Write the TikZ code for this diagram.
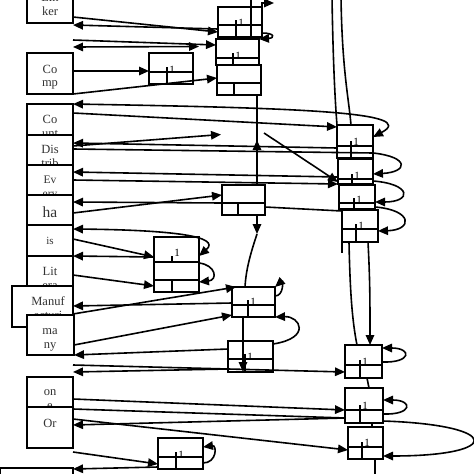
\documentclass[tikz,border=0pt]{standalone}
\usepackage{fontspec}
\setmainfont{Liberation Serif}
\usetikzlibrary{arrows.meta}
\tikzset{
  wbox/.style={draw, fill=white, line width=1.3pt, anchor=north west, inner sep=0pt, outer sep=0pt},
  wtxt/.style={anchor=base, font=\fontsize{12.5}{14}\selectfont, text=black!80, inner sep=0pt},
  rec/.style={draw, line width=1.3pt, anchor=north west, inner sep=0pt, outer sep=0pt},
  recline/.style={line width=1.3pt},
  lab/.style={font=\fontsize{11}{12}\selectfont, inner sep=0pt},
  ln/.style={line width=1.6pt},
  arr/.style={line width=1.6pt, -{Triangle[length=10pt,width=8.5pt]}},
  dar/.style={line width=1.6pt, {Triangle[length=10pt,width=8.5pt]}-{Triangle[length=10pt,width=8.5pt]}},
}
\newcommand\recnode[8]{%
  \node[rec, minimum width={(#4-#2)*1pt}, minimum height={(#5-#3)*1pt}] (#1) at (#2,#3) {};
  \draw[recline] (#2,#6) -- (#4,#6);
  \draw[recline] (#7,#6) -- (#7,#5);
  \if\relax\detokenize{#8}\relax\else
    \draw[recline] (#7,#6) -- (#7,#6-5);
    \node[lab] (#1-l) at (#7+5,#8) {1};
  \fi}
\newcommand\wordbox[5]{%
  \node[wbox, minimum width={(#4-#2)*1pt}, minimum height={(#5-#3)*1pt}] (#1) at (#2,#3) {};}
\begin{document}
\begin{tikzpicture}[x=1pt,y=-1pt]
\useasboundingbox (0,0) rectangle (474,474);
\clip (0,0) rectangle (474,474);
% left word boxes
\wordbox{ker}{27}{-18}{73}{23}
\node[wtxt] (ker-a) at (50,1) {Lin};
\node[wtxt] (ker-b) at (50,15) {ker};
\wordbox{comp}{27}{53}{73}{94}
\node[wtxt] (comp-a) at (50,73) {Co};
\node[wtxt] (comp-b) at (50,86) {mp};
\wordbox{count}{27}{104}{73}{145}
\node[wtxt] (count-a) at (50,123) {Co};
\node[wtxt] (count-b) at (50,137) {unt};
\wordbox{dis}{27}{135}{73}{176}
\node[wtxt] (dis-a) at (50,153) {Dis};
\node[wtxt] (dis-b) at (50,167) {trib};
\wordbox{ev}{27}{165}{73}{206}
\node[wtxt, font=\fontsize{11.5}{13}\selectfont] (ev-a) at (50,183) {Ev};
\node[wtxt, font=\fontsize{11.5}{13}\selectfont] (ev-b) at (50,197) {ery};
\wordbox{ha}{27}{195}{73}{236}
\node[wtxt, font=\fontsize{15.5}{17}\selectfont] (ha-a) at (50,217) {ha};
\wordbox{is}{27}{225}{73}{266}
\node[wtxt, font=\fontsize{11}{13}\selectfont] (is-a) at (50,244) {is};
\wordbox{lit}{27}{256}{73}{297}
\node[wtxt] (lit-a) at (50,275) {Lit};
\node[wtxt] (lit-b) at (50,289) {era};
\wordbox{manuf}{12}{286}{73}{327}
\node[wtxt] (manuf-a) at (48,305) {Manuf};
\node[wtxt] (manuf-b) at (48,319) {acturi};
\wordbox{many}{27}{315}{74}{355}
\node[wtxt] (many-a) at (50,334) {ma};
\node[wtxt] (many-b) at (50,348) {ny};
\wordbox{one}{27}{377}{73}{418}
\node[wtxt] (one-a) at (50,395) {on};
\node[wtxt] (one-b) at (50,409) {e};
\wordbox{or}{27}{407}{73}{448}
\node[wtxt] (or-a) at (50,427) {Or};
\wordbox{bot}{0}{468}{73}{509}
% record boxes
\recnode{A}{218}{7}{262}{37}{25}{236}{23}
\recnode{B}{216}{39}{259}{65}{58}{233}{56}
\recnode{C}{217}{65}{261}{95}{83}{234}{}
\recnode{D}{149}{53}{193}{84}{72}{167}{70}
\recnode{E}{337}{125}{373}{158}{146}{351}{142}
\recnode{F}{338}{159}{373}{184}{179}{352}{176}
\recnode{G}{339}{185}{375}{209}{203}{354}{200}
\recnode{H}{342}{210}{378}{242}{229}{356}{226}
\recnode{I}{222}{185}{265}{215}{203}{238}{}
\recnode{K}{154}{237}{199}{292}{280}{172}{}
\draw[recline] (154,262) -- (199,262);
\draw[recline] (172,262) -- (172,256);
\node[lab] (K-l) at (177,253) {1};
\recnode{J}{232}{287}{275}{317}{305}{248}{302}
\recnode{L}{228}{341}{273}{372}{359}{245}{357}
\recnode{M}{158}{438}{203}{469}{457}{176}{455}
\recnode{N}{345}{345}{382}{378}{365}{360}{362}
\recnode{O}{345}{388}{383}{423}{410}{360}{406}
\recnode{P}{348}{427}{383}{459}{447}{362}{443}
% free ends
\coordinate (f1) at (73,40);
\coordinate (f2) at (73,47);
\coordinate (f3) at (199,46.5);
\coordinate (f5) at (221,134.5);
\coordinate (f6) at (264,133);
\coordinate (f7) at (257,140);
\coordinate (f8) at (257,234);
\coordinate (f9) at (73,365);
\coordinate (f10) at (73,372);
\coordinate (f11) at (73,452);
\coordinate (t0) at (251,-3);
\coordinate (t1) at (332,-3);
\coordinate (t2) at (341,-3);
\coordinate (t3) at (274,3);
\coordinate (b1) at (375,480);
% connectors, upper part
\draw[arr] (ker.east|-0,17) -- (A.west|-0,32);
\draw[arr] (A.west|-0,29) -- (ker.east|-0,25);
\draw[arr] (A.east|-0,33) .. controls (275,33) and (275,38) .. (B.north east);
\draw[arr] (A.north east) |- (t3);
\draw[ln] (t0) -- (B.north -| t0);
\draw[arr] (f1) -- (B.west|-0,45);
\draw[dar] (f2) -- (f3);
\draw[arr] (comp.east|-0,71) -- (D.west|-0,71);
\draw[arr] (comp.east|-0,94) -- (C.west|-0,78);
\draw[dar] (count.east|-0,104) .. controls (300,108) and (420,112) .. (E.east|-0,137);
\draw[arr] (count.east|-0,113) -- (E.west|-0,127);
\draw[arr] (dis.east|-0,146) -- (f5);
\draw[arr] (E.west|-0,148) -- (dis.east|-0,143);
\draw[arr] (dis.east|-0,149) -- (E.east|-0,153) .. controls (410,157) and (408,172) .. (F.east|-0,174);
\draw[arr] (f6) -- (F.west|-0,182);
\draw[arr] (F.west|-0,177) -- (ev.east|-0,172);
\draw[arr] (ev.east|-0,180) -- (F.west|-0,184);
\draw[arr] (I.west|-0,203) -- (ha.east|-0,202);
\draw[arr] (ha.east|-0,213) -- (I.west|-0,195);
\draw[ln] (I.east|-0,207) -- (H.west|-0,211);
\draw[ln] (C.south -| f7) -- (I.north -| f7);
\draw[arr] (I.north -| f7) -- (f7);
\draw[arr] (I.south -| f8) -- (f8);
\draw[ln] (f8) .. controls (250,255) and (246,270) .. (J.north -| 245,0);
% middle part
\draw[dar] (is.east|-0,229) .. controls (170,230) and (222,236) .. (K.east|-0,256);
\draw[arr] (is.east|-0,239) -- (K.west|-0,257);
\draw[arr] (K.west|-0,257) -- (lit.east|-0,256);
\draw[arr] (lit.east|-0,275) -- (K.west|-0,286);
\draw[arr] (K.east|-0,263) .. controls (216,265) and (218,280) .. (K.east|-0,282);
\draw[arr] (J.west|-0,303) -- (manuf.east|-0,306);
\draw[arr] (manuf.east|-0,314) -- (J.north -| 236,0);
\draw[arr] (J.east|-0,296) .. controls (284,296) and (283,280) .. (J.north east);
\draw[arr] (many.east|-0,345) -- (J.west|-0,315);
\draw[arr] (L.west|-0,349) -- (many.east|-0,355);
\draw[arr] (J.south -| 243,0) -- (L.south -| 243,0);
\draw[arr] (L.east|-0,344) .. controls (312,338) and (300,316) .. (J.south east);
\draw[arr] (f9) -- (N.west|-0,372);
\draw[arr] (L.west|-0,369) -- (f10);
% lower part
\draw[arr] (one.east|-0,399) -- (O.west|-0,410);
\draw[ln] (or.east|-0,409) -- (O.west|-0,418);
\draw[arr] (O.west|-0,418) -- (or.east|-0,425);
\draw[arr] (or.east|-0,419) -- (P.west|-0,450);
\draw[arr] (f11) -- (M.west|-0,464);
\draw[arr] (M.west|-0,467) -- (bot.east|-0,469);
\draw[arr] (M.east|-0,463) .. controls (217,463) and (217,445) .. (M.east|-0,447);
% right stack
\draw[ln] (t1) .. controls (333,60) and (335,100) .. (E.north west);
\draw[ln] (t2) .. controls (342,70) and (349,100) .. (E.north -| 351,0);
\draw[arr] (F.east|-0,181) .. controls (412,184) and (412,202) .. (G.east|-0,202);
\draw[arr] (G.east|-0,207) .. controls (413,210) and (413,230) .. (H.east|-0,231);
\draw[ln] (H.south west) -- ++(0,11);
\draw[ln] (H.south -| 349,0) .. controls (350,290) and (352,320) .. (N.north -| 357,0);
\draw[arr] (H.south -| 368,0) .. controls (370,280) and (370,300) .. (N.north -| 370,0);
\draw[arr] (N.east|-0,362) .. controls (412,363) and (412,348) .. (N.east|-0,348);
\draw[ln] (N.south -| 367,0) -- (O.north -| 369,0);
\draw[arr] (O.east|-0,414) .. controls (413,415) and (413,400) .. (O.east|-0,400);
\draw[arr] (O.east|-0,421) .. controls (503,425) and (503,456) .. (P.east|-0,456);
\draw[ln] (O.south -| 372,0) -- (P.north -| 372,0);
\draw[ln] (P.south -| b1) -- (b1);
\end{tikzpicture}
\end{document}
